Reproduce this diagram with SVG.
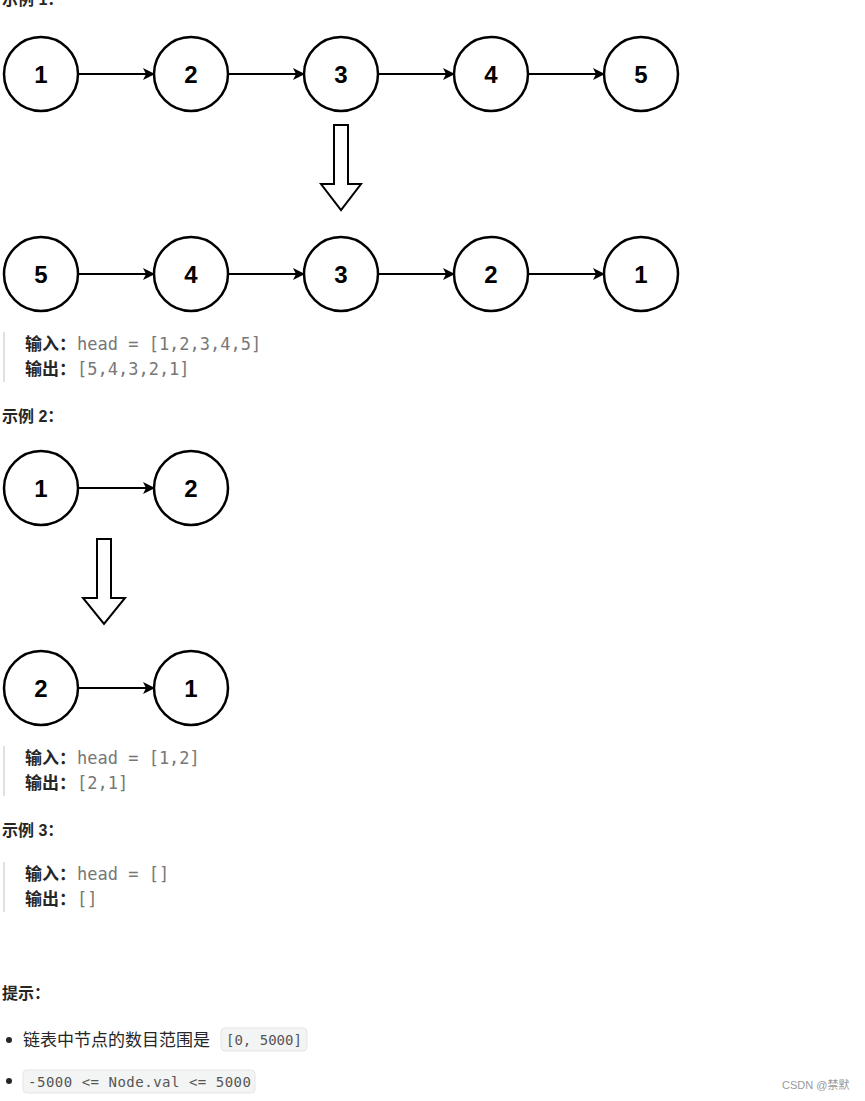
<svg xmlns="http://www.w3.org/2000/svg" width="865" height="1101" viewBox="0 0 865 1101">
<defs>
<style>
.n circle{fill:#fff;stroke:#000;stroke-width:2.5}
.n text{font-family:"Liberation Sans",Arial,sans-serif;font-weight:bold;font-size:24px;text-anchor:middle;fill:#000}
.c line{stroke:#000;stroke-width:2;marker-end:url(#ah)}
.big{fill:#fff;stroke:#000;stroke-width:2}
.h{font-family:"Liberation Sans","Noto Sans CJK SC",sans-serif;font-weight:bold;font-size:16px;fill:#262626}
.lb{font-family:"Noto Sans CJK SC",sans-serif;font-weight:bold;font-size:17px;fill:#262626}
.m{font-family:"DejaVu Sans Mono",monospace;font-size:17px;fill:#777}
.bar{fill:#e0e0e0}
.t{font-family:"Noto Sans CJK SC",sans-serif;font-size:17px;fill:#262626}
.code{fill:#f3f4f4;stroke:#e5e5e5}
.cm{font-family:"DejaVu Sans Mono",monospace;font-size:14px;fill:#555}
</style>
<marker id="ah" markerWidth="12" markerHeight="12" refX="10" refY="6" orient="auto" markerUnits="userSpaceOnUse"><path d="M0,0 L12,6 L0,12 L3,6 Z" fill="#000"/></marker>
</defs>
<text class="h" x="2" y="5">示例 1：</text>
<g class="c">
<line x1="79" y1="74" x2="153" y2="74"/><line x1="229" y1="74" x2="303" y2="74"/><line x1="379" y1="74" x2="453" y2="74"/><line x1="529" y1="74" x2="603" y2="74"/>
<line x1="79" y1="274" x2="153" y2="274"/><line x1="229" y1="274" x2="303" y2="274"/><line x1="379" y1="274" x2="453" y2="274"/><line x1="529" y1="274" x2="603" y2="274"/>
<line x1="79" y1="488" x2="153" y2="488"/>
<line x1="79" y1="688" x2="153" y2="688"/>
</g>
<g id="a1" class="n"><circle cx="41" cy="74" r="37"/><text x="41" y="83">1</text></g>
<g id="a2" class="n"><circle cx="191" cy="74" r="37"/><text x="191" y="83">2</text></g>
<g id="a3" class="n"><circle cx="341" cy="74" r="37"/><text x="341" y="83">3</text></g>
<g id="a4" class="n"><circle cx="491" cy="74" r="37"/><text x="491" y="83">4</text></g>
<g id="a5" class="n"><circle cx="641" cy="74" r="37"/><text x="641" y="83">5</text></g>
<path class="big" d="M334,125 H348 V184 H361 L341,210 L321,184 H334 Z"/>
<g id="b5" class="n"><circle cx="41" cy="274" r="37"/><text x="41" y="283">5</text></g>
<g id="b4" class="n"><circle cx="191" cy="274" r="37"/><text x="191" y="283">4</text></g>
<g id="b3" class="n"><circle cx="341" cy="274" r="37"/><text x="341" y="283">3</text></g>
<g id="b2" class="n"><circle cx="491" cy="274" r="37"/><text x="491" y="283">2</text></g>
<g id="b1" class="n"><circle cx="641" cy="274" r="37"/><text x="641" y="283">1</text></g>
<rect class="bar" x="3" y="332" width="2" height="50"/>
<text x="25" y="350"><tspan class="lb">输入：</tspan><tspan class="m" x="77">head = [1,2,3,4,5]</tspan></text>
<text x="25" y="375"><tspan class="lb">输出：</tspan><tspan class="m" x="77">[5,4,3,2,1]</tspan></text>
<text class="h" x="2" y="422">示例 2：</text>
<g id="c1" class="n"><circle cx="41" cy="488" r="37"/><text x="41" y="497">1</text></g>
<g id="c2" class="n"><circle cx="191" cy="488" r="37"/><text x="191" y="497">2</text></g>
<path class="big" d="M97,539 H111 V598 H125 L104,624 L83,598 H97 Z"/>
<g id="d2" class="n"><circle cx="41" cy="688" r="37"/><text x="41" y="697">2</text></g>
<g id="d1" class="n"><circle cx="191" cy="688" r="37"/><text x="191" y="697">1</text></g>
<rect class="bar" x="3" y="746" width="2" height="50"/>
<text x="25" y="764"><tspan class="lb">输入：</tspan><tspan class="m" x="77">head = [1,2]</tspan></text>
<text x="25" y="789"><tspan class="lb">输出：</tspan><tspan class="m" x="77">[2,1]</tspan></text>
<text class="h" x="2" y="836">示例 3：</text>
<rect class="bar" x="3" y="862" width="2" height="50"/>
<text x="25" y="880"><tspan class="lb">输入：</tspan><tspan class="m" x="77">head = []</tspan></text>
<text x="25" y="905"><tspan class="lb">输出：</tspan><tspan class="m" x="77">[]</tspan></text>
<text class="h" x="2" y="999">提示：</text>
<circle cx="9" cy="1040" r="3" fill="#262626"/>
<text class="t" x="23" y="1046">链表中节点的数目范围是</text>
<rect class="code" x="221" y="1028" width="86" height="23" rx="4"/>
<text class="cm" x="226" y="1045">[0, 5000]</text>
<circle cx="9" cy="1081" r="3" fill="#262626"/>
<rect class="code" x="23" y="1070" width="232" height="23" rx="4"/>
<text class="cm" x="28" y="1087" textLength="223" lengthAdjust="spacing">-5000 &lt;= Node.val &lt;= 5000</text>
<text x="782" y="1089" font-family="Liberation Sans,Noto Sans CJK SC,sans-serif" font-size="11" fill="#999">CSDN @禁默</text>
</svg>
